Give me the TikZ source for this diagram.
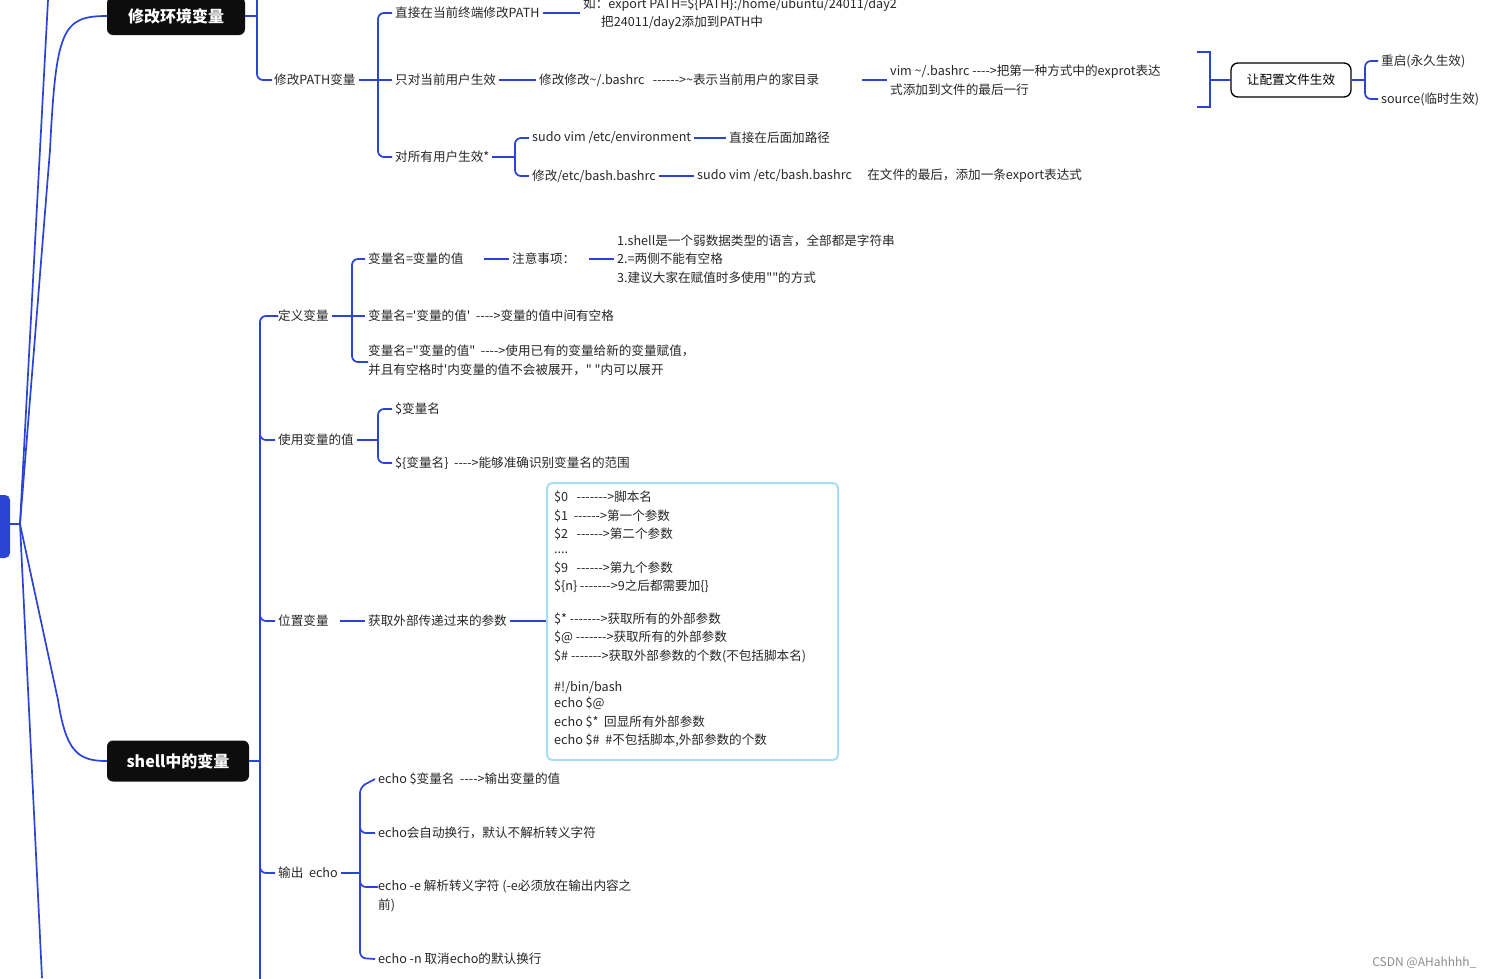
\documentclass[tikz,border=0pt]{standalone}
\usepackage{fontspec}
\setmainfont{Noto Sans CJK SC}[Ligatures=TeXOff]
\definecolor{bl}{HTML}{2B44D6}
\definecolor{lb}{HTML}{A8DDF5}
\begin{document}
\begin{tikzpicture}[x=1pt,y=-1pt,
  t/.style={anchor=west,inner xsep=3pt,inner ysep=1pt,font=\fontsize{12.6}{18.5}\selectfont,align=left,text=black!85},
  ln/.style={draw=bl,line width=1.7pt},
  br/.style={draw=bl,line width=1.7pt,rounded corners=6pt},
  topic/.style={fill=black!95,text=white,rounded corners=6pt,font=\bfseries\fontsize{16}{18}\selectfont,inner sep=0pt}]
\useasboundingbox (0,0) rectangle (1494,978);
% root
\fill[bl,rounded corners=5pt] (-10,495) rectangle (10,558);
\coordinate (r) at (20,524);
\draw[ln] (10,524) -- (r);
\draw[ln] (r) -- (48,0);
\draw[ln] (r) -- (42,978);
% topics
\node[topic,minimum width=138pt,minimum height=38pt] (env) at (176,16) {修改环境变量};
\node[topic,minimum width=142pt,minimum height=41pt] (sh) at (178,761) {shell中的变量};
\draw[ln] (r) -- (50,150) .. controls (56,30) and (62,16) .. (env.west);
\draw[ln] (r) -- (58,700) .. controls (66,752) and (78,761) .. (sh.west);
% env branch
\draw[ln] (env.east|-0,16) -- (257,16);
\draw[br] (257,-5) -- (257,80) -- (272,80);
\node[t] (path) at (271,80) {修改PATH变量};
\node[t] (p1) at (392,13) {直接在当前终端修改PATH};
\node[t] (p2) at (392,80) {只对当前用户生效};
\node[t] (p3) at (392,157) {对所有用户生效*};
\draw[ln] (path.east) -- (378,80) -- (p2.west);
\draw[br] (p1.west) -- (378,13) -- (378,157) -- (p3.west);
\node[t,anchor=north west,font=\fontsize{12.6}{18}\selectfont] (ex) at (580,-3) {如：export PATH=\$\{PATH\}:/home/ubuntu/24011/day2\\\hspace*{18pt}把24011/day2添加到PATH中};
\draw[ln] (p1.east) -- (580,13);
\node[t] (b1) at (536,80) {修改修改\textasciitilde/.bashrc \ \ ------>\textasciitilde 表示当前用户的家目录};
\draw[ln] (p2.east) -- (b1.west);
\node[t] (b2) at (887,80) {vim \textasciitilde/.bashrc ---->把第一种方式中的exprot表达\\式添加到文件的最后一行};
\draw[ln] (862,80) -- (b2.west);
\draw[ln] (1197,52) -- (1210,52) -- (1210,107) -- (1197,107);
\node[draw,line width=1.3pt,rounded corners=7pt,minimum width=120pt,minimum height=34pt,inner sep=0pt,font=\fontsize{12.6}{15}\selectfont] (cfg) at (1291,80) {让配置文件生效};
\draw[ln] (1210,80) -- (cfg.west);
\node[t] (c1) at (1378,61) {重启(永久生效)};
\node[t] (c2) at (1378,99) {source(临时生效)};
\draw[ln] (cfg.east) -- (1365,80);
\draw[br] (c1.west) -- (1365,61) -- (1365,99) -- (c2.west);
\node[t] (e1) at (529,138) {sudo vim /etc/environment};
\node[t] (e2) at (529,176) {修改/etc/bash.bashrc};
\draw[ln] (p3.east) -- (515,157);
\draw[br] (e1.west) -- (515,138) -- (515,176) -- (e2.west);
\node[t] (e1a) at (726,138) {直接在后面加路径};
\draw[ln] (e1.east) -- (e1a.west);
\node[t] (e2a) at (694,176) {sudo vim /etc/bash.bashrc \quad 在文件的最后，添加一条export表达式};
\draw[ln] (e2.east) -- (e2a.west);
% shell branch
\draw[ln] (sh.east) -- (260,761);
\draw[br] (278,316) -- (260,316) -- (260,985);
\node[t] (d) at (275,316) {定义变量};
\node[t] (u) at (275,440) {使用变量的值};
\node[t] (pos) at (275,621) {位置变量};
\node[t] (o) at (275,873) {输出\ \ echo};
\draw[br] (260,420) -- (260,440) -- (u.west);
\draw[br] (260,600) -- (260,621) -- (pos.west);
\draw[br] (260,850) -- (260,873) -- (o.west);
% define
\node[t] (d1) at (365,259) {变量名=变量的值};
\node[t] (d2) at (365,316) {变量名='变量的值' \ ---->变量的值中间有空格};
\node[t,anchor=north west] (d3) at (365,344) {变量名="变量的值" \ ---->使用已有的变量给新的变量赋值，\\并且有空格时'内变量的值不会被展开，"\ "内可以展开};
\draw[ln] (d.east) -- (d2.west);
\draw[br] (d1.west) -- (352,259) -- (352,362) -- (368,362);
\node[t] (n) at (509,259) {注意事项：};
\draw[ln] (484,259) -- (n.west);
\node[t] (n1) at (614,259) {1.shell是一个弱数据类型的语言，全部都是字符串\\2.=两侧不能有空格\\3.建议大家在赋值时多使用""的方式};
\draw[ln] (589,259) -- (n1.west);
% use
\node[t] (u1) at (392,409) {\$变量名};
\node[t] (u2) at (392,463) {\$\{变量名\} \ ---->能够准确识别变量名的范围};
\draw[ln] (u.east) -- (378,440);
\draw[br] (u1.west) -- (378,409) -- (378,463) -- (u2.west);
% position
\node[t] (g) at (365,621) {获取外部传递过来的参数};
\draw[ln] (340,621) -- (g.west);
\node[draw=lb,line width=2pt,rounded corners=5pt,anchor=north west,minimum width=291pt,minimum height=277pt,inner sep=0pt] (box) at (546,482) {};
\node[t,anchor=north west,font=\fontsize{12.6}{18.3}\selectfont] at (551,490) {\$0 \ \ ------->脚本名\\\$1 \ ------>第一个参数\\\$2 \ \ ------>第二个参数\\[-3pt]....\\\$9 \ \ ------>第九个参数\\\$\{n\} ------->9之后都需要加\{\}\\[15pt]\$* ------->获取所有的外部参数\\\$@ ------->获取所有的外部参数\\\$\# ------->获取外部参数的个数(不包括脚本名)\\[13pt]\#!/bin/bash\\[-2pt]echo \$@\\echo \$* \ 回显所有外部参数\\echo \$\# \ \#不包括脚本,外部参数的个数};
\draw[ln] (g.east) -- (box.west|-g.east);
% echo
\node[t] (o1) at (375,779) {echo \$变量名 \ ---->输出变量的值};
\node[t] (o2) at (375,833) {echo会自动换行，默认不解析转义字符};
\node[t] (o3) at (375,896) {echo -e 解析转义字符 (-e必须放在输出内容之\\前)};
\node[t] (o4) at (375,959) {echo -n 取消echo的默认换行};
\draw[ln] (o.east) -- (360,873);
\draw[br] (o1.west) -- (360,787) -- (360,958) -- (o4.west);
\draw[br] (360,825) -- (360,833) -- (o2.west);
\draw[br] (360,879) -- (360,887) -- (378,887);
\node[anchor=east,text=black!45,font=\fontsize{12}{14}\selectfont] (wm) at (1480,963) {CSDN @AHahhhh\_};
\end{tikzpicture}
\end{document}
